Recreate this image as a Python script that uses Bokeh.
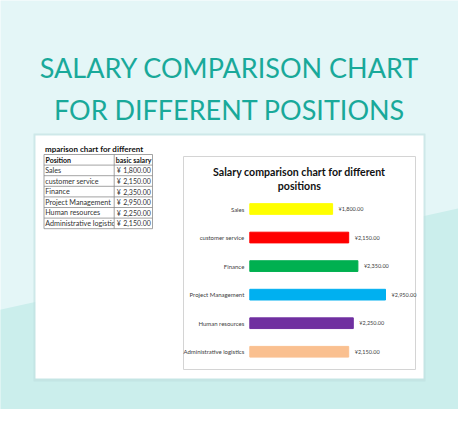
from bokeh.plotting import figure
from bokeh.models import Range1d
from bokeh.core.properties import value
from bokeh.embed import file_html
from bokeh.resources import INLINE
import numpy as np

# ---- data ----
positions = ["Sales", "customer service", "Finance", "Project Management",
             "Human resources", "Administrative logistics"]
salaries = [1800, 2150, 2350, 2950, 2250, 2150]
bar_colors = ["#FFFF00", "#FF0000", "#00B050", "#00B0F0", "#7030A0", "#FAC090"]
page_title = ["SALARY COMPARISON CHART", "FOR DIFFERENT POSITIONS"]
chart_title = ["Salary comparison chart for different", "positions"]
table_title = "mparison chart for different"
table_header = ["Position", "basic salary"]

FONT = "Lato"
W, H = 458, 409

# main canvas uses reference-pixel coordinates (page offset 8px)
p = figure(width=W, height=H, output_backend="svg", toolbar_location=None,
           x_range=Range1d(8, 8 + W), y_range=Range1d(8 + H, 8),
           x_axis_location=None, y_axis_location=None, min_border=0,
           outline_line_color=None, background_fill_color="#e4f6f7",
           border_fill_color="#e4f6f7")
p.grid.visible = False

# background lower band
p.patch([0, 474, 474, 0], [319, 214, 425, 425], color="#cbeeec", line_color=None)
# card shadow + card
p.quad(left=41, right=433, top=141, bottom=389, color="#bfe0df", alpha=0.6, line_color=None)
p.quad(left=43, right=431, top=143, bottom=386, color="white", line_color=None)

# page title
for i, t in enumerate(page_title):
    p.text(x=[237], y=[75 + 42 * i], text=[t], text_align="center",
           text_baseline="alphabetic", text_color="#19a99a",
           text_font=value(FONT), text_font_size=value("27px"))

# ---- table ----
row_top = 162.0
row_h = 10.6
nrows = len(positions) + 1
col_x = [51.5, 121.7, 160.0]
ry = row_top + row_h * (np.arange(len(positions)) + 1.5)
hy = row_top + row_h * 0.5

p.text(x=[52.7] * len(positions), y=ry, text=positions, text_font=value(FONT),
       text_font_size=value("7.2px"), text_color="#333333", text_baseline="middle")
# value column cells (clip overflowing position text like a spreadsheet)
p.quad(left=col_x[1], right=col_x[2], top=row_top, bottom=row_top + row_h * nrows,
       color="white", line_color=None)
p.quad(left=col_x[2], right=170, top=row_top, bottom=row_top + row_h * nrows,
       color="white", line_color=None)
for k in range(nrows + 1):
    yk = row_top + row_h * k
    p.line([col_x[0], col_x[-1]], [yk, yk], line_color="#8c8c8c", line_width=0.8)
for cx in col_x:
    p.line([cx, cx], [row_top, row_top + row_h * nrows], line_color="#8c8c8c", line_width=0.8)

p.text(x=[52.5], y=[156.7], text=[table_title], text_font=value(FONT),
       text_font_style="bold", text_font_size=value("8px"), text_color="#111111",
       text_baseline="alphabetic")
p.text(x=[53], y=[hy], text=[table_header[0]], text_font=value(FONT), text_font_style="bold",
       text_font_size=value("7px"), text_color="#111111", text_baseline="middle")
p.text(x=[123.3], y=[hy], text=[table_header[1]], text_font=value(FONT), text_font_style="bold",
       text_font_size=value("7px"), text_color="#111111", text_baseline="middle")
p.text(x=[124.3] * len(positions), y=ry, text=["¥"] * len(positions), text_font=value(FONT),
       text_font_size=value("7px"), text_color="#333333", text_baseline="middle")
p.text(x=[158.3] * len(positions), y=ry, text=[f"{v:,.2f}" for v in salaries],
       text_font=value(FONT), text_font_size=value("7px"), text_color="#333333",
       text_baseline="middle", text_align="right")

# ---- chart box ----
p.quad(left=191, right=423, top=164, bottom=377, fill_color="white",
       line_color="#d4d4d4", line_width=1)
for i, t in enumerate(chart_title):
    p.text(x=[306.8], y=[179.3 + 14 * i], text=[t], text_align="center",
           text_baseline="alphabetic", text_color="#111111", text_font=value(FONT),
           text_font_style="bold", text_font_size=value("10.6px"))

# bar scales (value axis and category index)
px_per_unit = (393.0 - 257.3) / 2950.0
x0 = -(257.3 - 8) / px_per_unit
p.extra_x_ranges = {"sal": Range1d(x0, x0 + W / px_per_unit)}
step = 28.55
p.extra_y_ranges = {"idx": Range1d((8 + H - 216.5) / step, (8 - 216.5) / step)}

idx = list(range(len(positions)))
p.hbar(y=idx, left=0, right=salaries, height=0.375, color=bar_colors,
       x_range_name="sal", y_range_name="idx")
p.text(x=[0] * len(positions), y=idx, text=positions, x_offset=-5.5,
       text_align="right", text_baseline="middle", text_color="#404040",
       text_font=value(FONT), text_font_size=value("6px"),
       x_range_name="sal", y_range_name="idx")
p.text(x=salaries, y=idx, text=[f"¥{v:,.2f}" for v in salaries], x_offset=6,
       text_align="left", text_baseline="middle", text_color="#404040",
       text_font=value(FONT), text_font_size=value("5.5px"),
       x_range_name="sal", y_range_name="idx")

open("out.html", "w").write(file_html(p, INLINE))
